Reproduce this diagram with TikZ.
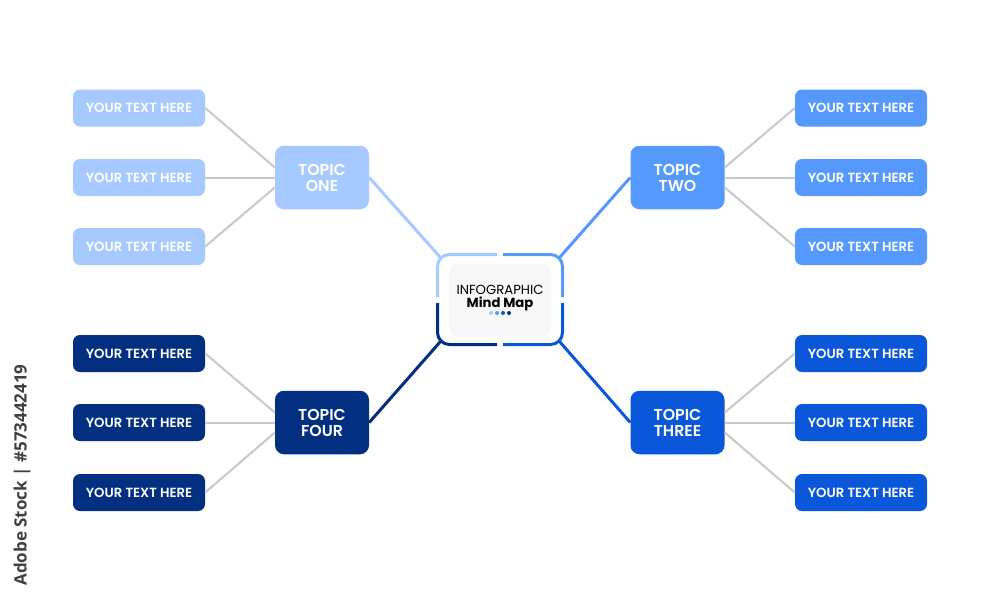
\documentclass[tikz,border=0pt]{standalone}
\usepackage{fontspec}
\setmainfont{Poppins}
\newfontfamily\semi{Poppins SemiBold}
\newfontfamily\vfont{Open Sans}
\definecolor{cone}{HTML}{A6CAFF}
\definecolor{ctwo}{HTML}{5599FF}
\definecolor{cthree}{HTML}{0B57D9}
\definecolor{cfour}{HTML}{022F80}
\definecolor{cgrey}{HTML}{C8C8C8}
\definecolor{cpanel}{HTML}{F8F8F8}
\tikzset{
  leaf/.style={rectangle,rounded corners=7pt,minimum width=132pt,minimum height=37pt,inner sep=0pt,text=white,text height=9.5pt,text depth=0pt,font=\fontsize{13.25pt}{14pt}\selectfont\semi},
  topic/.style={rectangle,rounded corners=9pt,minimum width=94pt,minimum height=63.5pt,inner sep=0pt},
  toptext/.style={inner sep=0pt,yshift=-0.5pt,text=white,align=center,font=\fontsize{15.8pt}{16pt}\selectfont\semi},
  twig/.style={cgrey,line width=2pt},
  limb/.style={line width=3pt},
  rim/.style={line width=3pt,rounded corners=12pt},
  dot/.style={circle,inner sep=0pt,minimum size=4pt}
}
\begin{document}
\begin{tikzpicture}[x=1pt,y=-1pt]
\useasboundingbox (0,0) rectangle (1000,600);
\fill[white] (0,0) rectangle (1000,600);
% leaves
\foreach \n/\y in {a/108,b/177.5,c/246.5}{
  \node[leaf,fill=cone] (l\n) at (139,\y) {YOUR TEXT HERE};
  \node[leaf,fill=ctwo] (r\n) at (861,\y) {YOUR TEXT HERE};
}
\foreach \n/\y in {d/353.5,e/422.5,f/492.5}{
  \node[leaf,fill=cfour] (l\n) at (139,\y) {YOUR TEXT HERE};
  \node[leaf,fill=cthree] (r\n) at (861,\y) {YOUR TEXT HERE};
}
% topics
\node[topic,fill=cone,label={[toptext]center:TOPIC\\ONE}] (tone) at (322,177.5) {};
\node[topic,fill=ctwo,label={[toptext]center:TOPIC\\TWO}] (ttwo) at (677.5,177.5) {};
\node[topic,fill=cthree,label={[toptext]center:TOPIC\\THREE}] (tthree) at (677.5,422.5) {};
\node[topic,fill=cfour,label={[toptext]center:TOPIC\\FOUR}] (tfour) at (322,422.5) {};
% twigs
\foreach \s/\t/\a/\b/\c in {l/tone/a/b/c,l/tfour/d/e/f}{
  \draw[twig] (\s\a.east) -- ([yshift=10pt]\t.west);
  \draw[twig] (\s\b.east) -- (\t.west);
  \draw[twig] (\s\c.east) -- ([yshift=-10pt]\t.west);
}
\foreach \s/\t/\a/\b/\c in {r/ttwo/a/b/c,r/tthree/d/e/f}{
  \draw[twig] (\s\a.west) -- ([yshift=10pt]\t.east);
  \draw[twig] (\s\b.west) -- (\t.east);
  \draw[twig] (\s\c.west) -- ([yshift=-10pt]\t.east);
}
% hub
\node[rectangle,rounded corners=9pt,fill=cpanel,minimum width=102pt,minimum height=72pt,inner sep=0pt] (panel) at (500,300) {};
\node[rectangle,minimum width=126pt,minimum height=91pt,inner sep=0pt] (hub) at (500,299.5) {};
\node[inner sep=0pt,text=black,text height=9.5pt,text depth=0pt,font=\fontsize{13.2pt}{14pt}\selectfont] (title) at (500,290) {INFOGRAPHIC};
\node[inner sep=0pt,text=black,text height=9.5pt,text depth=0pt,font=\fontsize{13.2pt}{14pt}\selectfont\bfseries] (sub) at (500,302.5) {Mind Map};
\node[dot,fill=cone] (d1) at (491,313) {};
\node[dot,fill=ctwo] (d2) at (497,313) {};
\node[dot,fill=cthree] (d3) at (503,313) {};
\node[dot,fill=cfour] (d4) at (509,313) {};
% hub rim
\draw[rim,cone] (497,254.5) -- (437.5,254.5) -- (437.5,297);
\draw[rim,ctwo] (503,254.5) -- (562.5,254.5) -- (562.5,297);
\draw[rim,cthree] (503,344.5) -- (562.5,344.5) -- (562.5,303);
\draw[rim,cfour] (497,344.5) -- (437.5,344.5) -- (437.5,303);
% limbs
\draw[limb,cone] (tone.east) -- ([shift={(3.5pt,-3.5pt)}]hub.north west);
\draw[limb,ctwo] (ttwo.west) -- ([shift={(-3.5pt,-3.5pt)}]hub.north east);
\draw[limb,cthree] (tthree.west) -- ([shift={(-3.5pt,3.5pt)}]hub.south east);
\draw[limb,cfour] (tfour.east) -- ([shift={(3.5pt,3.5pt)}]hub.south west);
% side label
\node[rotate=90,inner sep=0pt,text=black!75,font=\vfont\fontsize{17pt}{18pt}\selectfont\bfseries] (stock) at (22,475) {Adobe Stock | \#573442419};
\end{tikzpicture}
\end{document}
